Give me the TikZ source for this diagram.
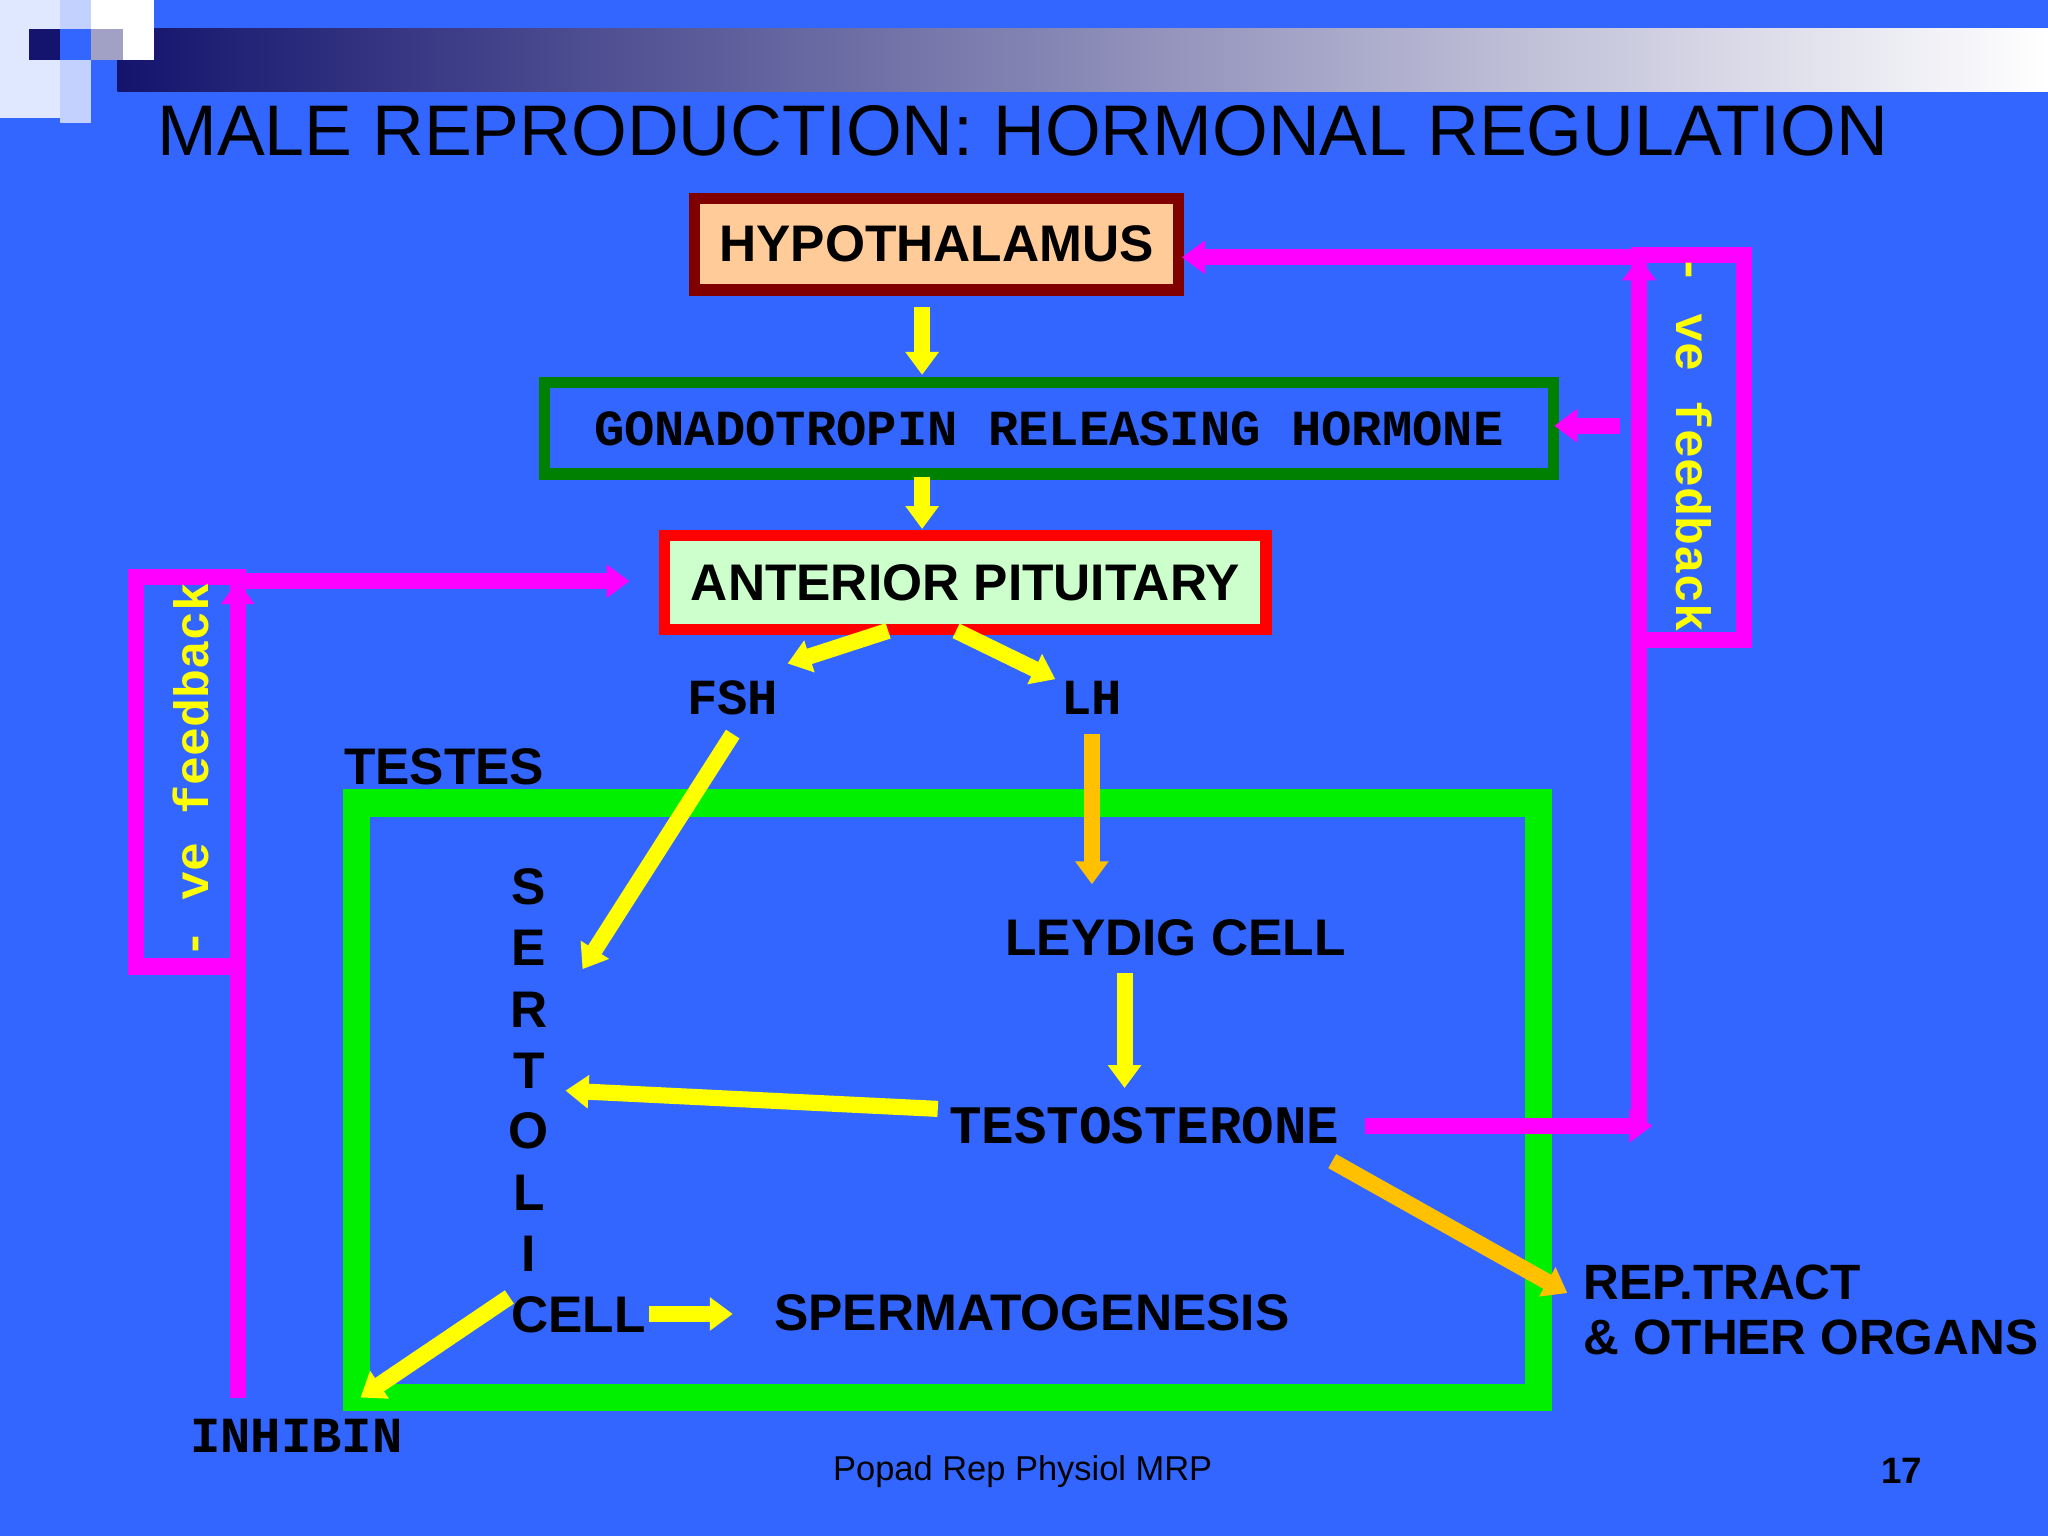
\documentclass[tikz,border=0pt]{standalone}
\usepackage{fontspec}
\setmainfont{Liberation Sans}
\newfontfamily\monof{Liberation Mono}
\usetikzlibrary{arrows.meta}
\definecolor{bg}{RGB}{51,102,255}
\definecolor{navy}{RGB}{20,20,110}
\definecolor{peach}{RGB}{255,204,153}
\definecolor{dred}{RGB}{128,0,0}
\definecolor{lgreen}{RGB}{204,255,204}
\definecolor{dgreen}{RGB}{0,128,0}
\definecolor{lime}{RGB}{0,240,0}
\definecolor{orng}{RGB}{255,192,0}
\definecolor{mag}{RGB}{255,0,255}
\definecolor{yel}{RGB}{255,255,0}
\tikzset{
 ya/.style={draw=yel,line width=3.5pt,-{Triangle[length=5pt,width=7pt]}},
 oa/.style={draw=orng,line width=3.5pt,-{Triangle[length=5pt,width=7pt]}},
 ma/.style={draw=mag,line width=3.5pt,-{Triangle[length=5pt,width=7pt]}},
 ml/.style={draw=mag,line width=3.5pt},
 sb/.style={font=\fontsize{11.2}{13}\selectfont\bfseries,text=black},
 mb/.style={font=\fontsize{11}{13}\monof\bfseries,text=black},
}
\begin{document}
\begin{tikzpicture}[x=0.01cm,y=-0.01cm]
\fill[bg] (0,0) rectangle (1568,1176);
\useasboundingbox (0,0) rectangle (1568,1176);
% header
\shade[left color=navy,right color=white] (90,22) rectangle (1568,70);
\fill[white!85!bg] (0,0) rectangle (46,90);
\fill[white!70!bg] (46,0) rectangle (70,22);
\fill[white] (70,0) rectangle (118,46);
\fill[white!70!bg] (46,46) rectangle (70,94);
\fill[navy] (22,22) rectangle (46,46);
\fill[white!60!navy] (70,22) rectangle (94,46);
\node (title) at (783,100) {\fontsize{15.6}{18}\selectfont MALE REPRODUCTION: HORMONAL REGULATION};
% boxes
\node[draw=dred,line width=2.5pt,fill=peach,minimum width=3.7cm,minimum height=0.7cm,sb] (hyp) at (717,187) {HYPOTHALAMUS};
\node[draw=dgreen,line width=2.5pt,minimum width=7.72cm,minimum height=0.7cm,mb] (gnrh) at (803,328) {GONADOTROPIN RELEASING HORMONE};
\node[draw=red,line width=2.5pt,fill=lgreen,minimum width=4.6cm,minimum height=0.72cm,sb] (ap) at (739,446) {ANTERIOR PITUITARY};
\draw[draw=lime,line width=6pt] (273,615) rectangle (1178,1070);
\coordinate (h1) at (706,235); \coordinate (h2) at (706,287);
\draw[ya] (h1) -- (h2);
\coordinate (g1) at (706,365); \coordinate (g2) at (706,405);
\draw[ya] (g1) -- (g2);
\node[mb] (fsh) at (561,534) {FSH};
\node[mb] (lh) at (836,534) {LH};
\coordinate (a1) at (680,483); \coordinate (a2) at (603,508);
\coordinate (a3) at (732,483); \coordinate (a4) at (808,520);
\draw[ya] (a1) -- (a2); \draw[ya] (a3) -- (a4);
\node[sb] (testes) at (340,587) {TESTES};
\foreach \l/\yy [count=\i] in {S/679,E/726,R/773,T/820,O/866,L/913,I/960}
  \node[sb] (s\i) at (405,\yy) {\l};
\node[sb] (cell) at (443,1007) {CELL};
\node[sb] (spg) at (790,1005) {SPERMATOGENESIS};
\node[sb] (ley) at (900,718) {LEYDIG CELL};
\node[mb,font=\fontsize{11.8}{13}\monof\bfseries] (tst) at (876,862) {TESTOSTERONE};
\node[sb,align=left,anchor=west,font=\fontsize{10.8}{13}\selectfont\bfseries] (rep) at (1200,1003) {REP.TRACT\\[-1pt]\& OTHER ORGANS};
\node[mb] (inh) at (227,1099) {INHIBIN};
\coordinate (f1) at (561,562); \coordinate (f2) at (446,742);
\draw[ya] (f1) -- (f2);
\coordinate (l1) at (836,562); \coordinate (l2) at (836,677);
\draw[oa] (l1) -- (l2);
\coordinate (y1) at (861,745); \coordinate (y2) at (861,833);
\draw[ya] (y1) -- (y2);
\coordinate (t1) at (718,849); \coordinate (t2) at (433,835);
\draw[ya] (t1) -- (t2);
\coordinate (c1) at (497,1006); \coordinate (c2) at (561,1006);
\draw[ya] (c1) -- (c2);
\coordinate (r1) at (1020,889); \coordinate (r2) at (1200,990);
\draw[oa] (r1) -- (r2);
\coordinate (i1) at (390,993); \coordinate (i2) at (276,1070);
\draw[ya] (i1) -- (i2);
% left feedback
\draw[ml] (104,442) rectangle (182,740);
\coordinate (lb) at (182,1070); \coordinate (lc) at (182,445); \coordinate (le) at (482,445);
\draw[ma] (lb) -- (lc);
\draw[ma] (lc) -- (le);
\node[rotate=90,font=\fontsize{10.5}{13}\monof\bfseries,text=yel] (fbl) at (146,590) {- ve feedback};
% right feedback
\draw[ml] (1255,195) rectangle (1335,490);
\coordinate (rt1) at (1045,862); \coordinate (rt2) at (1265,862);
\draw[ma] (rt1) -- (rt2);
\coordinate (rb) at (1255,862); \coordinate (rc) at (1255,197);
\draw[ma] (rb) -- (rc);
\coordinate (rd) at (1255,197); \coordinate (re) at (905,197);
\draw[ma] (rd) -- (re);
\coordinate (ga) at (1240,326); \coordinate (gb) at (1190,326);
\draw[ma] (ga) -- (gb);
\node[rotate=-90,font=\fontsize{10.5}{13}\monof\bfseries,text=yel] (fbr) at (1297,340) {- ve feedback};
% footer
\node (foot) at (783,1127) {\fontsize{7.5}{9}\selectfont Popad Rep Physiol MRP};
\node (num) at (1456,1126) {\fontsize{8}{9}\selectfont\bfseries 17};
\end{tikzpicture}
\end{document}
